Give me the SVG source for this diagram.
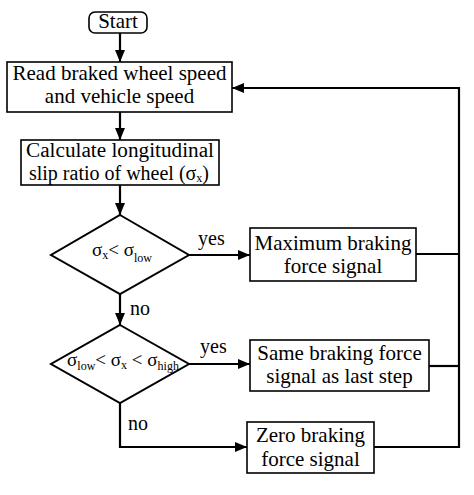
<svg xmlns="http://www.w3.org/2000/svg" width="474" height="495" viewBox="0 0 474 495">
<style>
text{font-family:"Liberation Serif","Times New Roman",serif;fill:#000;}
.t{font-size:21px;text-anchor:middle;}
.t2{font-size:20px;text-anchor:middle;}
.lbl{font-size:20px;}
.box{fill:#fff;stroke:#000;stroke-width:1.6;}
.dia{fill:#fff;stroke:#000;stroke-width:2;}
.c{fill:none;stroke:#000;stroke-width:2.2;}
.m{font-size:19px;text-anchor:middle;}
.s{font-size:12px;}
</style>
<defs>
<marker id="ah" markerUnits="userSpaceOnUse" markerWidth="12" markerHeight="10" refX="12" refY="5" orient="auto">
<path d="M0,0 L12,5 L0,10 z" fill="#000"/>
</marker>
</defs>
<rect width="474" height="495" fill="#fff"/>
<g id="connectors">
<line class="c" x1="120" y1="33" x2="120" y2="62" marker-end="url(#ah)"/>
<line class="c" x1="120" y1="112" x2="120" y2="140" marker-end="url(#ah)"/>
<line class="c" x1="120" y1="185" x2="120" y2="215" marker-end="url(#ah)"/>
<line class="c" x1="189" y1="255" x2="250" y2="255" marker-end="url(#ah)"/>
<line class="c" x1="120" y1="294" x2="120" y2="325" marker-end="url(#ah)"/>
<line class="c" x1="189" y1="364" x2="250" y2="364" marker-end="url(#ah)"/>
<path class="c" d="M120,403 V447 H247" marker-end="url(#ah)"/>
<line class="c" x1="416" y1="254" x2="459" y2="254"/>
<line class="c" x1="429" y1="366" x2="459" y2="366"/>
<path class="c" d="M374,447 H459 V88 H232" marker-end="url(#ah)"/>
<text class="lbl" x="198" y="245">yes</text>
<text class="lbl" x="130" y="315">no</text>
<text class="lbl" x="200" y="353">yes</text>
<text class="lbl" x="128" y="430">no</text>
</g>
<g id="start">
<rect class="box" x="89" y="12" width="58" height="21" rx="6"/>
<text class="t" x="118" y="28">Start</text>
</g>
<g id="read">
<rect class="box" x="7" y="62" width="225" height="50"/>
<text class="t" x="119.5" y="80">Read braked wheel speed</text>
<text class="t" x="119.5" y="103">and vehicle speed</text>
</g>
<g id="calc">
<rect class="box" x="21" y="140" width="198" height="45"/>
<text class="t2" x="120" y="157" textLength="188" lengthAdjust="spacingAndGlyphs">Calculate longitudinal</text>
<text class="t2" x="119" y="180">slip ratio of wheel (σ<tspan class="s" dy="2">x</tspan><tspan dy="-2">)</tspan></text>
</g>
<g id="dec1">
<polygon class="dia" points="120,215 189,255 120,294 51,255"/>
<text class="m" x="122" y="256">σ<tspan class="s" dy="3">x</tspan><tspan dy="-3">&lt; σ</tspan><tspan class="s" dy="6">low</tspan></text>
</g>
<g id="dec2">
<polygon class="dia" points="120,325 189,364 120,403 51,364"/>
<text class="m" x="123" y="366">σ<tspan class="s" dy="4">low</tspan><tspan dy="-4">&lt; σ</tspan><tspan class="s" dy="3">x</tspan><tspan dy="-3"> &lt; σ</tspan><tspan class="s" dy="4">high</tspan></text>
</g>
<g id="max">
<rect class="box" x="250" y="228" width="166" height="53"/>
<text class="t" x="333" y="250">Maximum braking</text>
<text class="t" x="333" y="273">force signal</text>
</g>
<g id="same">
<rect class="box" x="250" y="340" width="179" height="51"/>
<text class="t" x="339.5" y="360">Same braking force</text>
<text class="t" x="339.5" y="383">signal as last step</text>
</g>
<g id="zero">
<rect class="box" x="247" y="422" width="127" height="51"/>
<text class="t" x="310.5" y="442">Zero braking</text>
<text class="t" x="310.5" y="466">force signal</text>
</g>
</svg>
